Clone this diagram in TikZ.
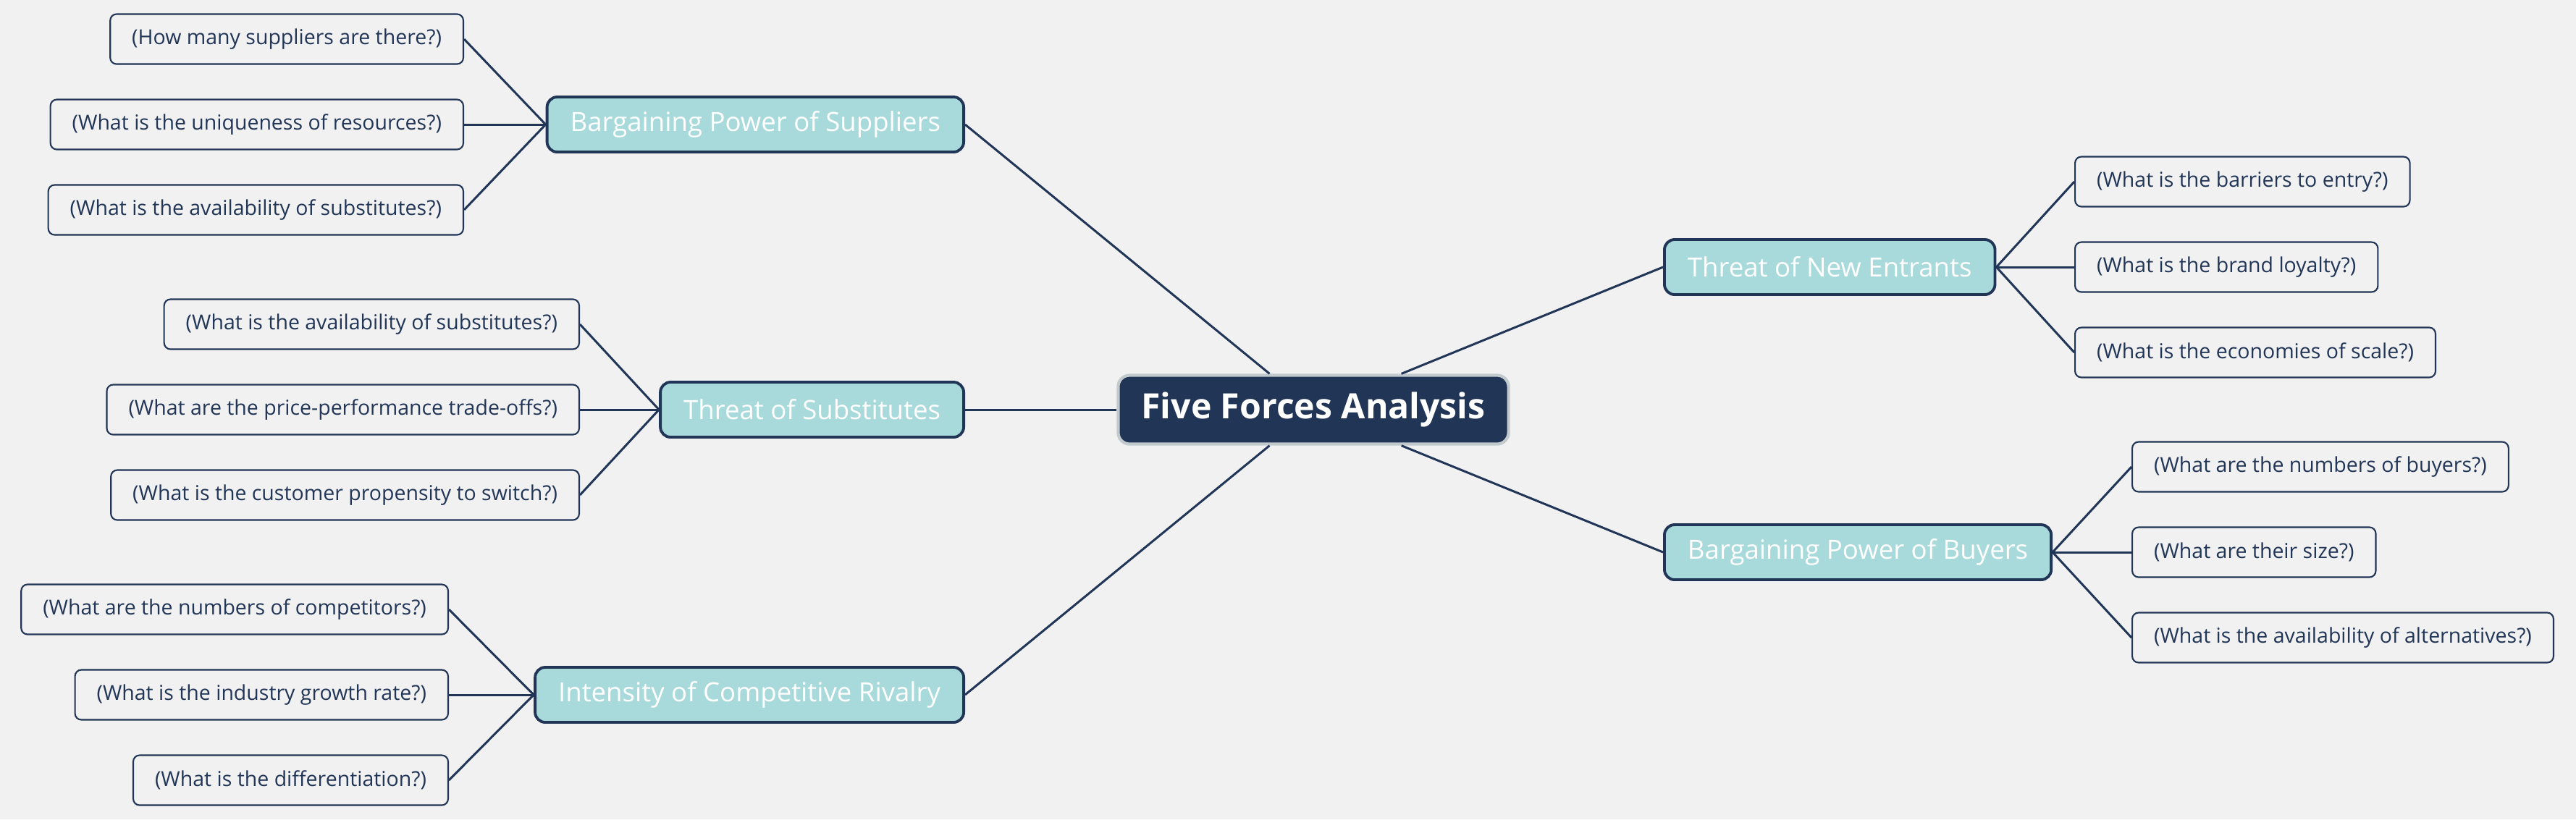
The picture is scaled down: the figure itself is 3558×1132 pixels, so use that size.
\documentclass[tikz,border=0pt]{standalone}
\usepackage{fontspec}
\setmainfont{Open Sans}
\definecolor{navy}{HTML}{213557}
\definecolor{branchfill}{HTML}{A8DADC}
\definecolor{bgcol}{HTML}{F1F1F1}
\definecolor{hubline}{HTML}{C2CACE}
\begin{document}
\begin{tikzpicture}[x=0.01cm,y=-0.01cm,
    hub/.style={draw=hubline,line width=1.2pt,fill=navy,rounded corners=4.5pt,text=white,
      font=\fontsize{13.7}{16}\selectfont\bfseries,minimum height=0.95cm,inner xsep=0.32cm},
    branch/.style={draw=navy,line width=1.1pt,fill=branchfill,rounded corners=4pt,text=white,
      font=\fontsize{10.4}{12}\selectfont,minimum height=0.76cm,inner xsep=0.32cm},
    leaf/.style={draw=navy,line width=0.6pt,fill=bgcol,rounded corners=2.5pt,text=navy,
      font=\fontsize{8.1}{10}\selectfont,minimum height=0.69cm,inner xsep=0.3cm},
    link/.style={draw=navy,line width=0.85pt}]
    \fill[bgcol] (0,0) rectangle (3558,1132);
    \useasboundingbox (0,0) rectangle (3558,1132);
    \node[hub] (ctr) at (1814,566) {Five Forces Analysis};
    \node[branch,anchor=east] (bps) at (1333,172) {Bargaining Power of Suppliers};
    \node[branch,anchor=east] (tos) at (1333,566) {Threat of Substitutes};
    \node[branch,anchor=east] (icr) at (1333,960) {Intensity of Competitive Rivalry};
    \node[branch,anchor=west] (tne) at (2297,369) {Threat of New Entrants};
    \node[branch,anchor=west] (bpb) at (2297,763) {Bargaining Power of Buyers};
    \foreach \b in {bps,tos,icr}
    \draw[link] (ctr) -- (\b.east);
    \foreach \b in {tne,bpb}
    \draw[link] (ctr) -- (\b.west);
    \foreach \txt [count=\i] in {{(How many suppliers are there?)},{(What is the uniqueness of resources?)},{(What is the availability of substitutes?)}} {
    \node[leaf,anchor=east] (s\i) at (641,{-64+118*\i}) {\txt};
    \draw[link] (bps.west) -- (s\i.east);
    }
    \foreach \txt [count=\i] in {{(What is the availability of substitutes?)},{(What are the price-performance trade-offs?)},{(What is the customer propensity to switch?)}} {
    \node[leaf,anchor=east] (t\i) at (801,{330+118*\i}) {\txt};
    \draw[link] (tos.west) -- (t\i.east);
    }
    \foreach \txt [count=\i] in {{(What are the numbers of competitors?)},{(What is the industry growth rate?)},{(What is the differentiation?)}} {
    \node[leaf,anchor=east] (r\i) at (620,{724+118*\i}) {\txt};
    \draw[link] (icr.west) -- (r\i.east);
    }
    \foreach \txt [count=\i] in {{(What is the barriers to entry?)},{(What is the brand loyalty?)},{(What is the economies of scale?)}} {
    \node[leaf,anchor=west] (n\i) at (2865,{133+118*\i}) {\txt};
    \draw[link] (tne.east) -- (n\i.west);
    }
    \foreach \txt [count=\i] in {{(What are the numbers of buyers?)},{(What are their size?)},{(What is the availability of alternatives?)}} {
    \node[leaf,anchor=west] (b\i) at (2944,{527+118*\i}) {\txt};
    \draw[link] (bpb.east) -- (b\i.west);
    }
\end{tikzpicture}
\end{document}
